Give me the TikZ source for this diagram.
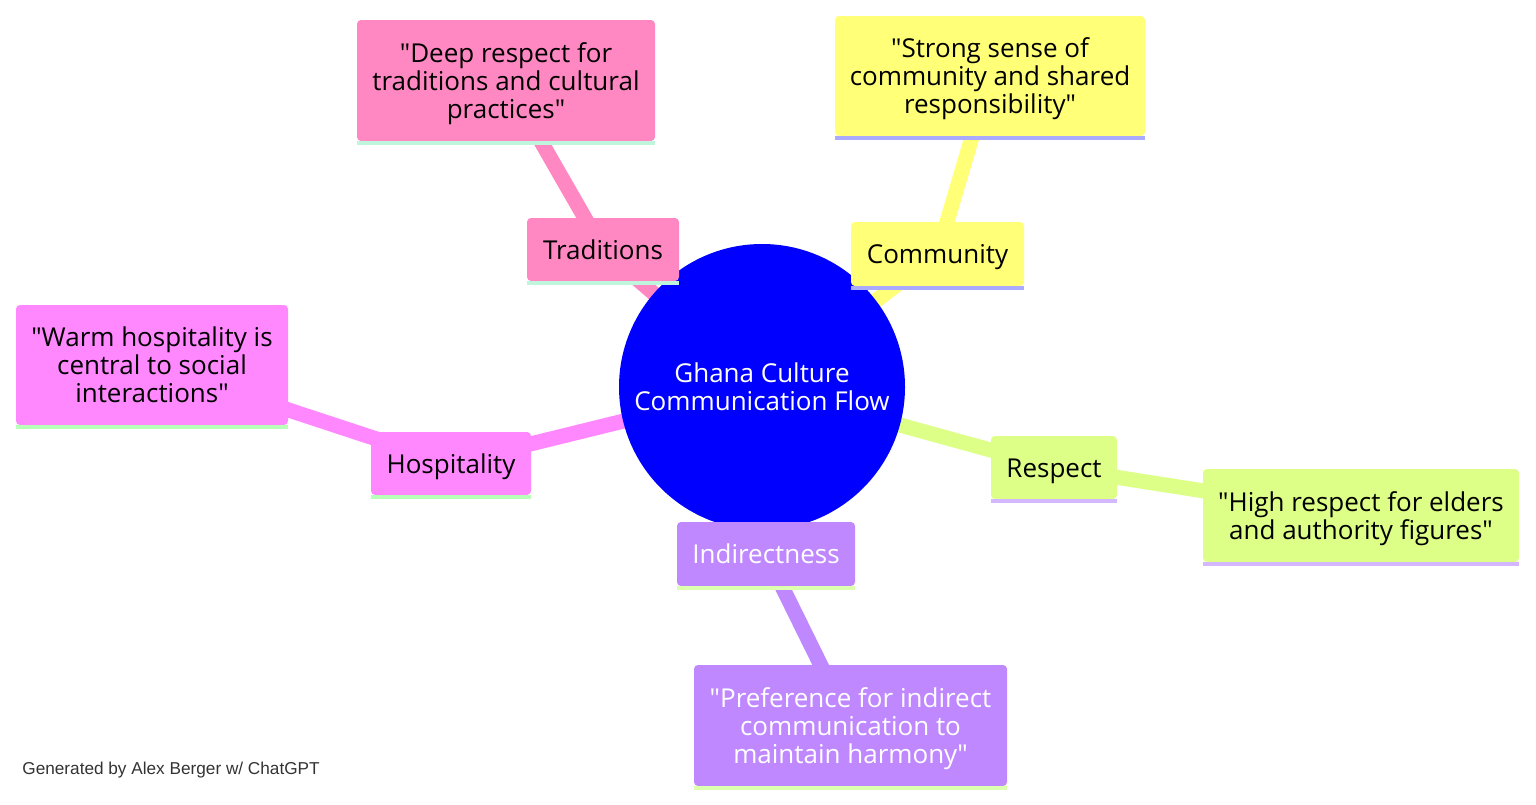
\documentclass[tikz,border=0pt]{standalone}
\usepackage{fontspec}
\setmainfont{Open Sans}
\newfontfamily\footfont{Liberation Sans}
\usetikzlibrary{backgrounds}

\definecolor{rootblue}{RGB}{0,0,255}
\definecolor{tradpink}{RGB}{255,136,194}
\definecolor{commyellow}{RGB}{255,255,120}
\definecolor{hospmagenta}{RGB}{255,136,255}
\definecolor{resplime}{RGB}{221,255,136}
\definecolor{indirpurple}{RGB}{192,136,255}
\definecolor{mintline}{RGB}{190,245,220}
\definecolor{periline}{RGB}{170,170,255}
\definecolor{greenline}{RGB}{184,255,184}
\definecolor{lilacline}{RGB}{212,184,255}
\definecolor{limeline}{RGB}{221,255,176}

\newcommand{\q}{\textquotedbl}

\tikzset{
  box/.style={fill=#1, rounded corners=2pt, inner sep=0pt, align=center,
    font=\fontsize{13}{14}\selectfont, text depth=2pt},
  oneline/.style={text height=11.5pt},
  twolines/.style={text height=25.5pt},
  threelines/.style={text height=39.5pt},
  underline/.style={line width=2pt, draw=#1},
  link/.style={line width=7.5pt, draw=#1},
}

\begin{document}
\begin{tikzpicture}[x=0.5pt, y=-0.5pt]
    \useasboundingbox (0,0) rectangle (1536,804);

    % centre
    \node[circle, fill=rootblue, minimum size=143pt, inner sep=0pt, align=center,
      text=white, font=\fontsize{13}{14}\selectfont, text depth=2pt, twolines] (root) at (762,387)
      {Ghana Culture\\Communication Flow};

    % first ring
    \node[box=tradpink, oneline, minimum width=76pt, minimum height=31.5pt] (trad) at (603,249.5) {Traditions};
    \node[box=commyellow, oneline, minimum width=86.5pt, minimum height=32pt] (comm) at (937.5,254) {Community};
    \node[box=hospmagenta, oneline, minimum width=80pt, minimum height=31.5pt] (hosp) at (451,463.5) {Hospitality};
    \node[box=resplime, oneline, minimum width=63pt, minimum height=31.5pt] (resp) at (1054,467.5) {Respect};
    \node[box=indirpurple, oneline, text=white, minimum width=89pt, minimum height=32pt] (indir) at (766,554) {Indirectness};

    % leaves
    \node[box=tradpink, threelines, minimum width=149pt, minimum height=60.5pt] (deep) at (506,80.5)
      {\q Deep respect for\\traditions and cultural\\practices\q};
    \node[box=commyellow, threelines, minimum width=155pt, minimum height=60pt] (strong) at (990,76)
      {\q Strong sense of\\community and shared\\responsibility\q};
    \node[box=hospmagenta, threelines, minimum width=136pt, minimum height=60pt] (warm) at (152,365)
      {\q Warm hospitality is\\central to social\\interactions\q};
    \node[box=resplime, twolines, minimum width=158pt, minimum height=46.5pt] (high) at (1361,515.5)
      {\q High respect for elders\\and authority figures\q};
    \node[box=indirpurple, threelines, text=white, minimum width=156.5pt, minimum height=60.5pt] (pref) at (850.5,725.5)
      {\q Preference for indirect\\communication to\\maintain harmony\q};

    % underlines
    \draw[underline=mintline] ([yshift=-1pt]trad.south west) -- ([yshift=-1pt]trad.south east);
    \draw[underline=mintline] ([yshift=-1pt]deep.south west) -- ([yshift=-1pt]deep.south east);
    \draw[underline=periline] ([yshift=-1pt]comm.south west) -- ([yshift=-1pt]comm.south east);
    \draw[underline=periline] ([yshift=-1pt]strong.south west) -- ([yshift=-1pt]strong.south east);
    \draw[underline=greenline] ([yshift=-1pt]hosp.south west) -- ([yshift=-1pt]hosp.south east);
    \draw[underline=greenline] ([yshift=-1pt]warm.south west) -- ([yshift=-1pt]warm.south east);
    \draw[underline=lilacline] ([yshift=-1pt]resp.south west) -- ([yshift=-1pt]resp.south east);
    \draw[underline=lilacline] ([yshift=-1pt]high.south west) -- ([yshift=-1pt]high.south east);
    \draw[underline=limeline] ([yshift=-1pt]indir.south west) -- ([yshift=-1pt]indir.south east);
    \draw[underline=limeline] ([yshift=-1pt]pref.south west) -- ([yshift=-1pt]pref.south east);

    % branches
    \begin{pgfonlayer}{background}
      \draw[link=tradpink] (root.center) -- (trad.center);
      \draw[link=tradpink] (trad.center) -- (deep.center);
      \draw[link=commyellow] (root.center) -- (comm.center);
      \draw[link=commyellow] (comm.center) -- (strong.center);
      \draw[link=hospmagenta] (root.center) -- (hosp.center);
      \draw[link=hospmagenta] (hosp.center) -- (warm.center);
      \draw[link=resplime] (root.center) -- (resp.center);
      \draw[link=resplime] (resp.center) -- (high.center);
      \draw[link=indirpurple] (root.center) -- (indir.center);
      \draw[link=indirpurple] (indir.center) -- (pref.center);
    \end{pgfonlayer}

    \node[anchor=west, inner sep=0pt, text=black!80, font=\footfont\fontsize{8.6}{10}\selectfont] (credit) at (22,770)
      {Generated by Alex Berger w/ ChatGPT};
\end{tikzpicture}
\end{document}
